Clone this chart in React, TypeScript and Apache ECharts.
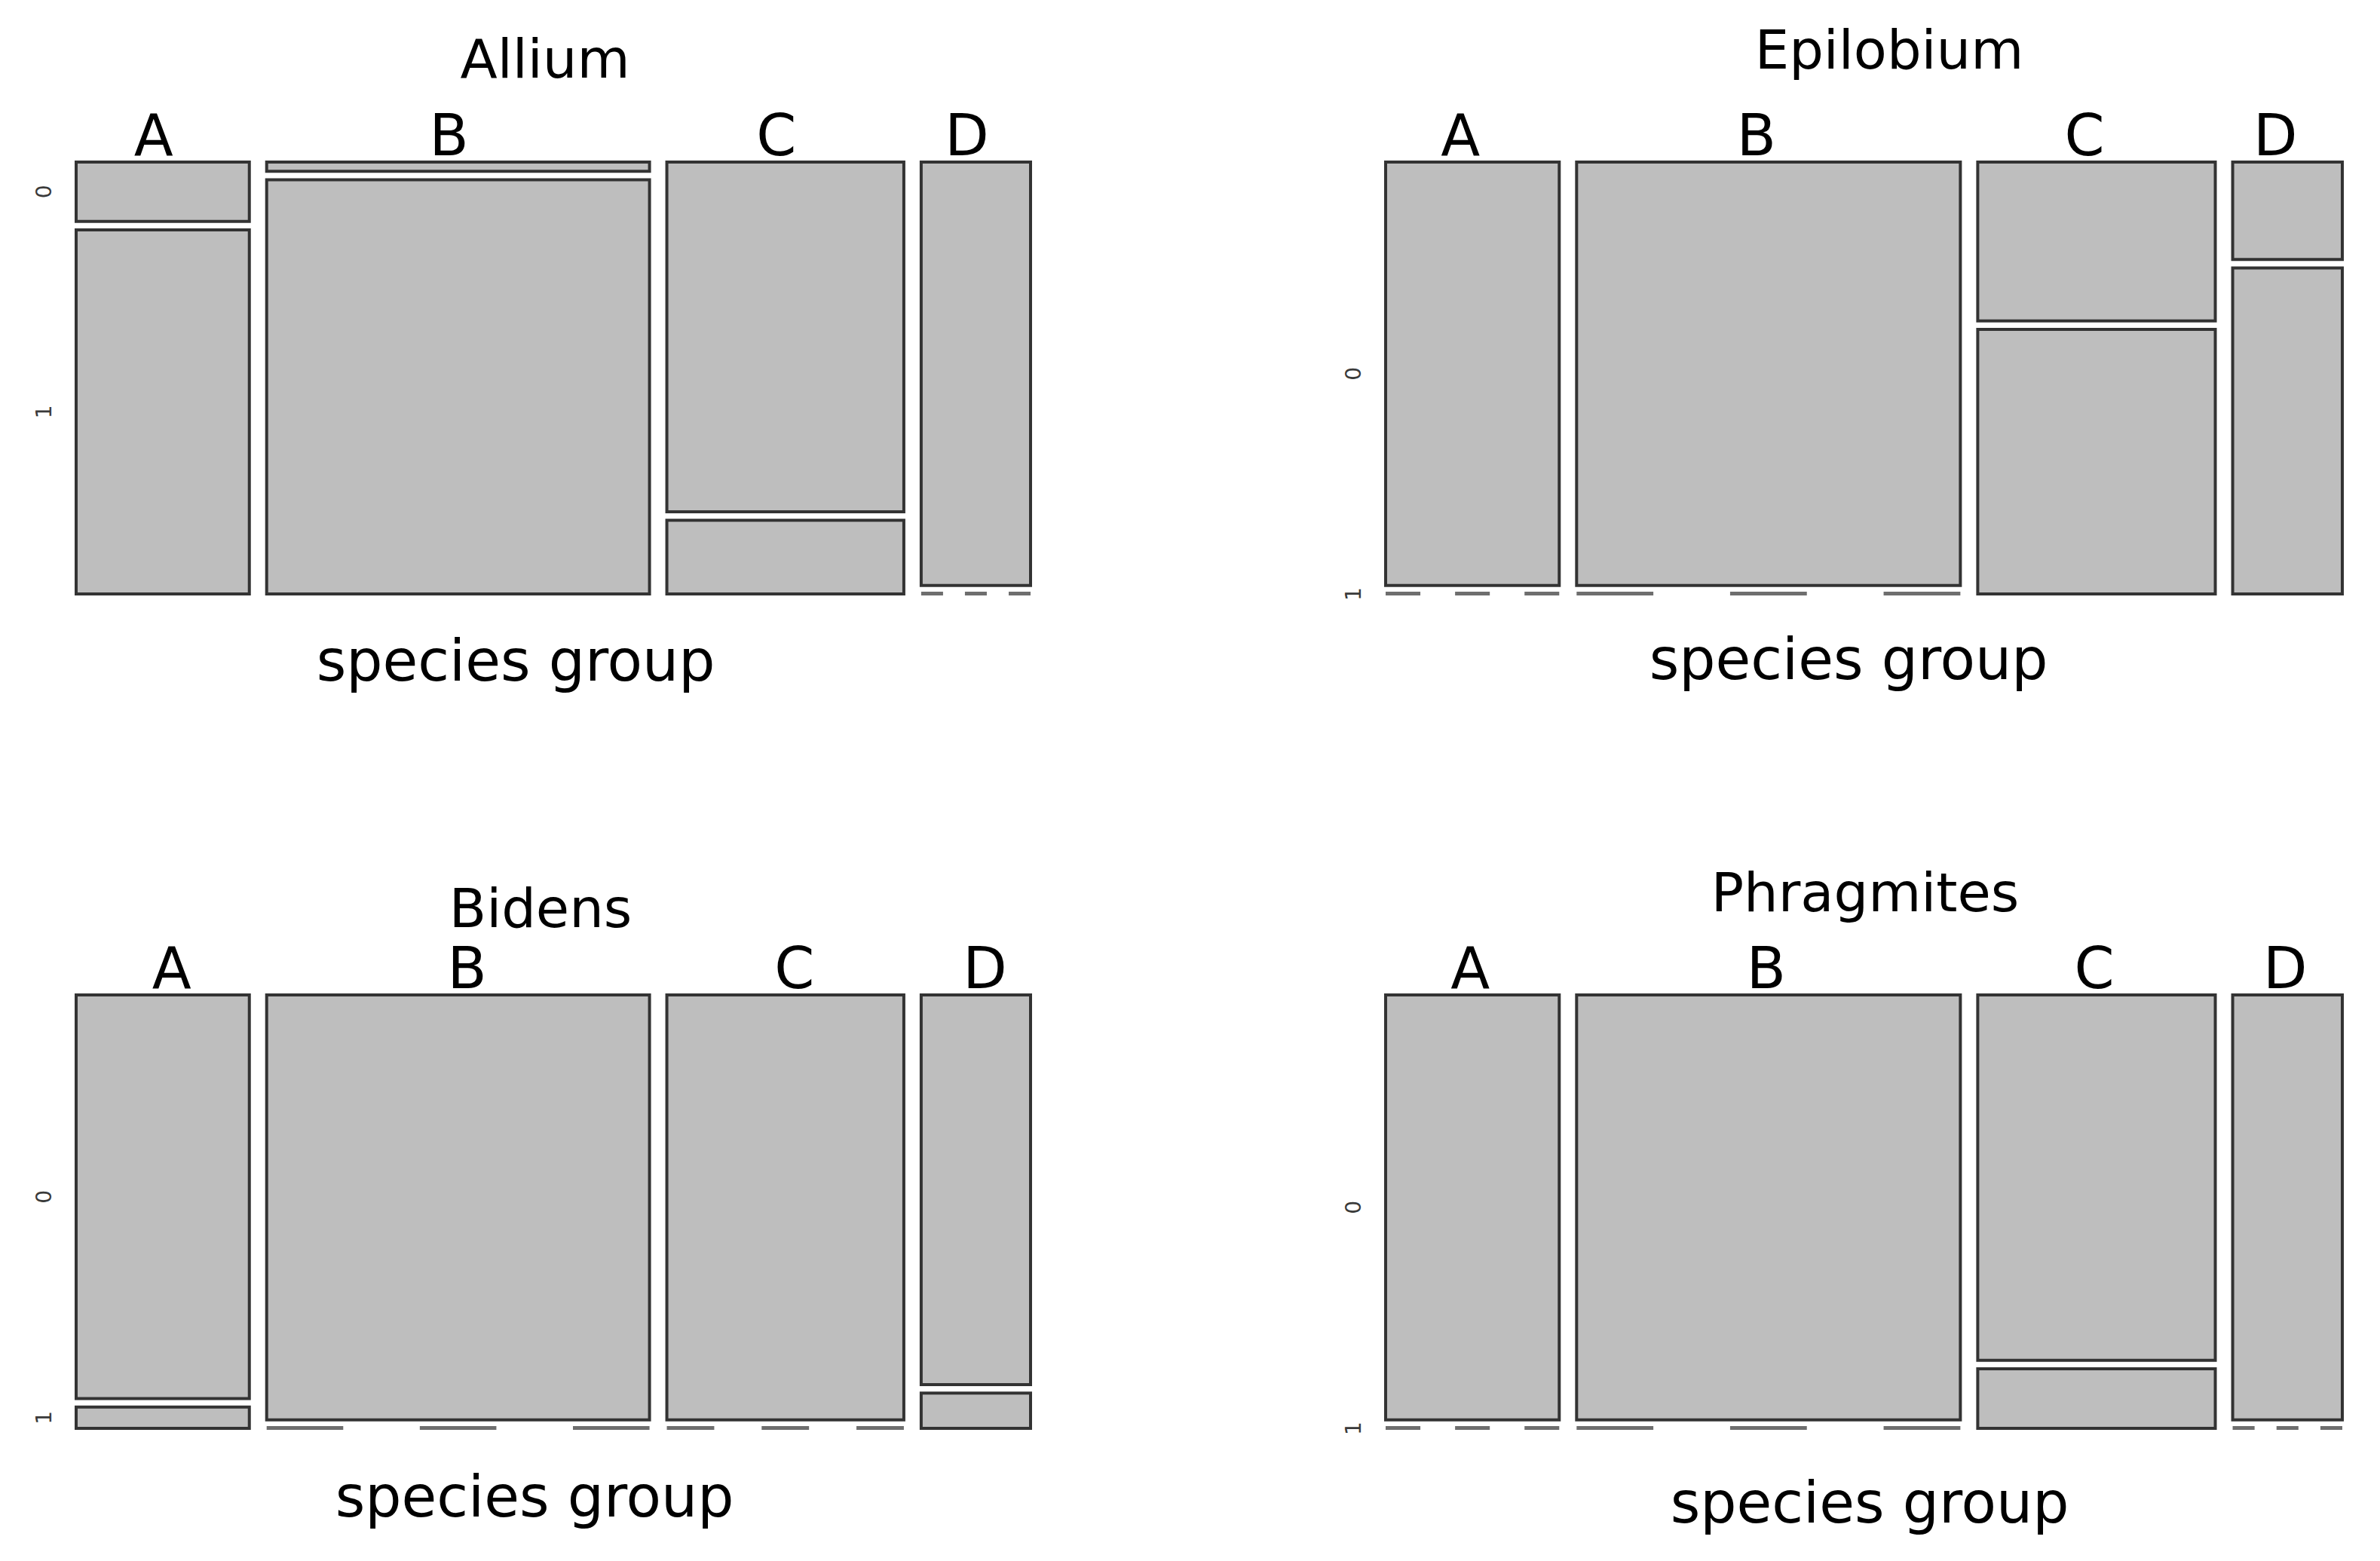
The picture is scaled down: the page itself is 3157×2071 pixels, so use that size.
import React, { useEffect, useRef } from "react";
import * as echarts from "echarts";

// ---- data ----
const GENERA = ["Allium", "Epilobium", "Bidens", "Phragmites"];
const GROUPS = ["A", "B", "C", "D"];
// relative size of each species group (column widths of the mosaic)
const GROUP_SIZES = [19, 42, 26, 12];
const CLASSES = ["0", "1"];
// share of class "0" (upper tile) within each species group
const ALLIUM_SHARE0 = [0.14, 0.022, 0.826, 1];
const EPILOBIUM_SHARE0 = [1, 1, 0.375, 0.23];
const BIDENS_SHARE0 = [0.95, 1, 1, 0.917];
const PHRAGMITES_SHARE0 = [1, 1, 0.86, 1];
const X_LABEL = "species group";

const SHARES = [ALLIUM_SHARE0, EPILOBIUM_SHARE0, BIDENS_SHARE0, PHRAGMITES_SHARE0];

// ---- layout / style ----
const GAP = 1.9; // horizontal gap between columns, in size units
const VGAP = 0.02; // vertical gap between tiles, in share units
const FONT = "DejaVu Sans";
const FILL = "#bebebe";
const STROKE = "#333333";
const DASH = "#6e6e6e";

const PANELS = [
  { left: 101, top: 215, width: 1266, height: 573, titleX: 723, titleY: 78, xlabX: 684, xlabY: 876, letterDx: -12 },
  { left: 1838, top: 215, width: 1269, height: 573, titleX: 2506, titleY: 66, xlabX: 2452, xlabY: 874, letterDx: -16 },
  { left: 101, top: 1320, width: 1266, height: 575, titleX: 717, titleY: 1205, xlabX: 709, xlabY: 1985, letterDx: 12 },
  { left: 1838, top: 1320, width: 1269, height: 575, titleX: 2474, titleY: 1184, xlabX: 2480, xlabY: 1993, letterDx: -3 },
];

const X_MAX = GROUP_SIZES.reduce((a, b) => a + b, 0) + GAP * (GROUP_SIZES.length - 1);

function buildData(shares: number[]) {
  let start = 0;
  return GROUPS.map((g, i) => {
    const item = [start, start + GROUP_SIZES[i], shares[i], i];
    start += GROUP_SIZES[i] + GAP;
    return item;
  });
}

function makeRenderItem(panelIndex: number) {
  const panel = PANELS[panelIndex];
  return (params: any, api: any) => {
    const x0 = api.value(0);
    const x1 = api.value(1);
    const s = api.value(2);
    const gi = api.value(3);
    const children: any[] = [];
    const left = api.coord([x0, 0])[0];
    const right = api.coord([x1, 0])[0];
    const w = right - left;

    const tile = (ya: number, yb: number) => {
      const pa = api.coord([x0, ya])[1];
      const pb = api.coord([x0, yb])[1];
      children.push({
        type: "rect",
        shape: { x: left, y: Math.min(pa, pb), width: w, height: Math.abs(pb - pa) },
        style: { fill: FILL, stroke: STROKE, lineWidth: 4 },
      });
      return (pa + pb) / 2;
    };
    const emptyLine = (yv: number) => {
      const py = api.coord([x0, yv])[1];
      for (let k = 0; k < 3; k++) {
        children.push({
          type: "rect",
          shape: { x: left + (k * 2 * w) / 5, y: py - 3, width: w / 5, height: 5 },
          style: { fill: DASH },
        });
      }
      return py;
    };

    let mid0: number;
    let mid1: number;
    if (s >= 1) {
      mid0 = tile(0, 1);
      mid1 = emptyLine(1 + VGAP);
    } else if (s <= 0) {
      mid0 = emptyLine(0);
      mid1 = tile(VGAP, 1 + VGAP);
    } else {
      mid0 = tile(0, s);
      mid1 = tile(s + VGAP, 1 + VGAP);
    }

    // column label
    const topY = api.coord([x0, 0])[1];
    children.push({
      type: "text",
      x: left + w / 2 + panel.letterDx,
      y: topY - 36,
      style: {
        text: GROUPS[gi],
        fill: "#000000",
        fontSize: 76,
        fontFamily: FONT,
        align: "center",
        verticalAlign: "middle",
      },
    });

    // class labels beside the first column
    if (gi === 0) {
      [mid0, mid1].forEach((py, ci) => {
        children.push({
          type: "text",
          x: left - 43,
          y: py,
          rotation: Math.PI / 2,
          style: {
            text: CLASSES[ci],
            fill: "#3a3a3a",
            fontSize: 28,
            fontFamily: FONT,
            align: "center",
            verticalAlign: "middle",
          },
        });
      });
    }
    return { type: "group", children };
  };
}

export default function App() {
  const ref = useRef<HTMLDivElement>(null);

  useEffect(() => {
    document.body.style.margin = "0";
    document.body.style.overflow = "hidden";
    if (!ref.current) return;
    const chart = echarts.init(ref.current, null, { renderer: "svg" });

    const graphic: any[] = [];
    PANELS.forEach((p, i) => {
      graphic.push({
        type: "text",
        x: p.titleX,
        y: p.titleY,
        style: { text: GENERA[i], fill: "#000000", fontSize: 72, fontFamily: FONT, align: "center", verticalAlign: "middle" },
      });
      graphic.push({
        type: "text",
        x: p.xlabX,
        y: p.xlabY,
        style: { text: X_LABEL, fill: "#000000", fontSize: 76, fontFamily: FONT, align: "center", verticalAlign: "middle" },
      });
    });

    chart.setOption({
      animation: false,
      backgroundColor: "#ffffff",
      grid: PANELS.map((p) => ({ left: p.left, top: p.top, width: p.width, height: p.height })),
      xAxis: PANELS.map((p, i) => ({ type: "value", gridIndex: i, min: 0, max: X_MAX, show: false })),
      yAxis: PANELS.map((p, i) => ({ type: "value", gridIndex: i, min: 0, max: 1 + VGAP, inverse: true, show: false })),
      series: PANELS.map((p, i) => ({
        type: "custom",
        name: GENERA[i],
        xAxisIndex: i,
        yAxisIndex: i,
        clip: false,
        silent: true,
        data: buildData(SHARES[i]),
        renderItem: makeRenderItem(i),
      })),
      graphic,
    });
    return () => chart.dispose();
  }, []);

  return <div ref={ref} style={{ width: 3157, height: 2071 }} />;
}
